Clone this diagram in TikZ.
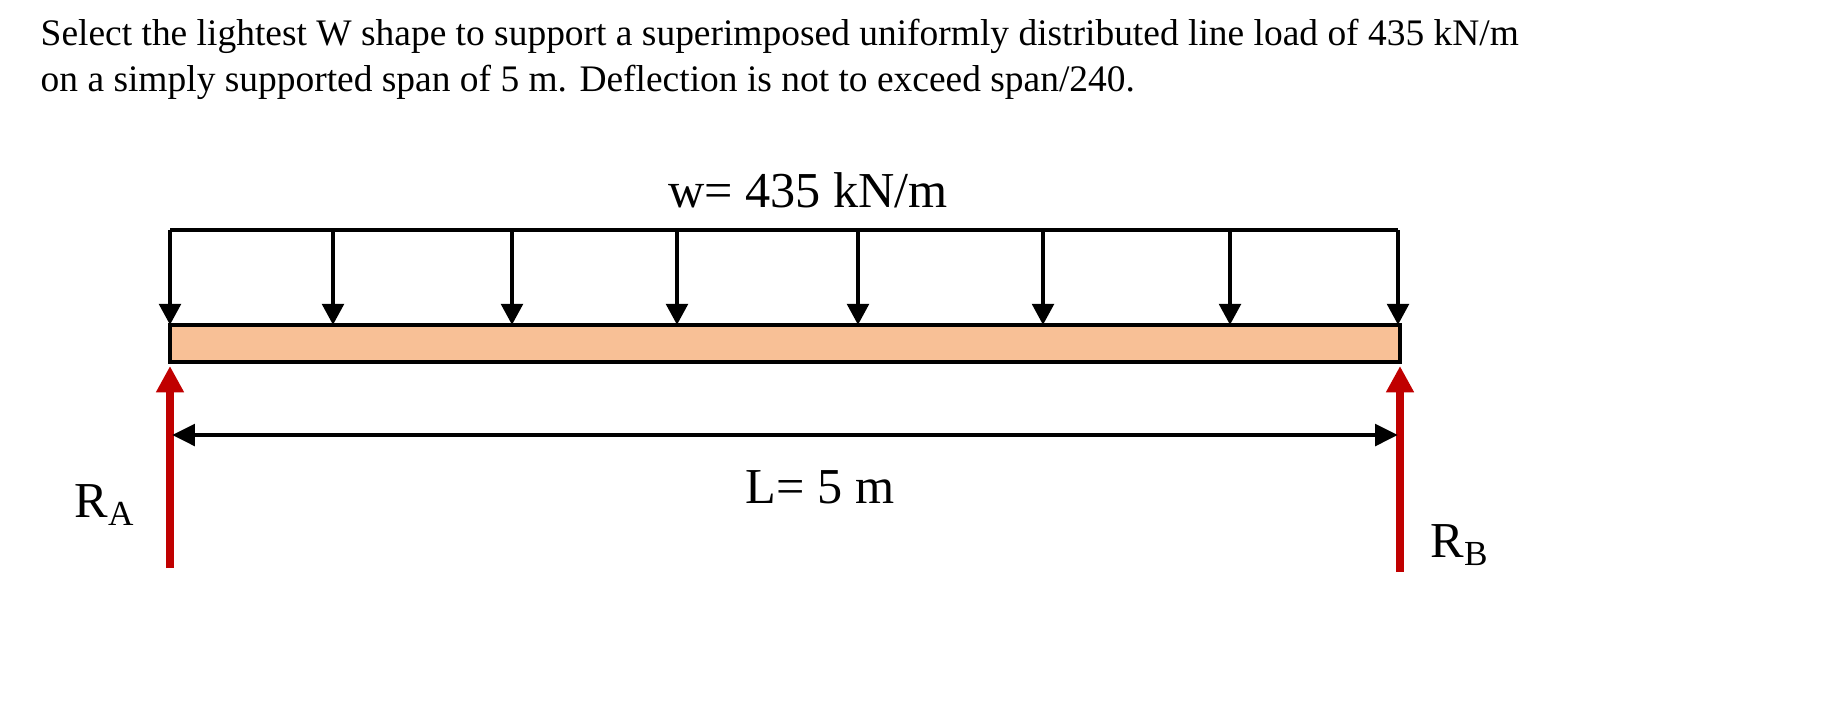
\documentclass[tikz,border=0pt]{standalone}
\usepackage{fontspec}
\setmainfont{Liberation Serif}
\usetikzlibrary{arrows.meta}
\definecolor{beamc}{HTML}{F8C096}
\definecolor{redc}{HTML}{C00000}
\begin{document}
\begin{tikzpicture}[x=0.01cm,y=-0.01cm,
  blk/.style={line width=1.4pt,black},
  load/.style={blk,-{Triangle[length=6pt,width=6pt]}},
  react/.style={line width=2pt,redc,-{Triangle[length=7.5pt,width=7.5pt]}},
  lbl/.style={font=\fontsize{14.3pt}{16pt}\selectfont,inner sep=0pt}]
\useasboundingbox (0,0) rectangle (1839,702);
\node[anchor=north west,align=left,inner sep=0pt,font=\fontsize{10.65pt}{13.2pt}\selectfont] (title) at (40,18)
 {Select the lightest W shape to support a superimposed uniformly distributed line load of 435 kN/m\\
  on a simply supported span of 5 m. Deflection is not to exceed span/240.};
\draw[blk,fill=beamc] (170,325) rectangle (1400,362);
\coordinate (t0) at (170,230); \coordinate (t7) at (1398,230);
\draw[blk] (t0) -- (t7);
\foreach \x [count=\i] in {170,333,512,677,858,1043,1230,1398}{
  \coordinate (a\i) at (\x,230); \coordinate (b\i) at (\x,325);
  \draw[load] (a\i) -- (b\i);}
\coordinate (ra0) at (170,568); \coordinate (ra1) at (170,366);
\coordinate (rb0) at (1400,572); \coordinate (rb1) at (1400,366);
\draw[react] (ra0) -- (ra1);
\draw[react] (rb0) -- (rb1);
\coordinate (d0) at (172,435); \coordinate (d1) at (1398,435);
\draw[blk,{Triangle[length=6.5pt,width=6pt]}-{Triangle[length=6.5pt,width=6pt]}] (d0) -- (d1);
\node[lbl] (w) at (808,190) {w= 435 kN/m};
\node[lbl] (L) at (820,487) {L= 5 m};
\node[lbl] (RA) at (105,505) {R\textsubscript{A}};
\node[lbl] (RB) at (1460,545) {R\textsubscript{B}};
\end{tikzpicture}
\end{document}
